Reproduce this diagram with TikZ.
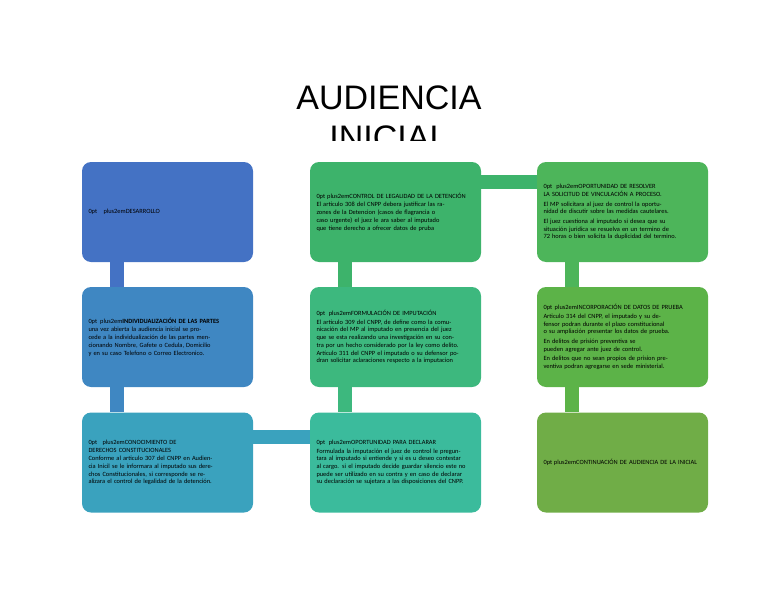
\documentclass[tikz,border=0pt]{standalone}
\usepackage{fontspec}
\setmainfont{Carlito}
\newfontfamily\titlefont{Liberation Sans}
\usetikzlibrary{calc}
\pgfdeclarelayer{bg}\pgfsetlayers{bg,main}
\newcommand\jst{\leftskip=0pt\rightskip=0pt\parfillskip=0pt plus 1fil\relax}
\definecolor{cA}{HTML}{4472C4}
\definecolor{cB}{HTML}{3F87C2}
\definecolor{cC}{HTML}{3AA2BE}
\definecolor{cD}{HTML}{3DB36B}
\definecolor{cE}{HTML}{3DB87E}
\definecolor{cF}{HTML}{3BBB9C}
\definecolor{cG}{HTML}{4DB55A}
\definecolor{cH}{HTML}{5CB348}
\definecolor{cI}{HTML}{70AD47}
\tikzset{
 box/.style={rounded corners=9pt, minimum width=171pt, minimum height=100pt, text width=158pt, align=center, font=\fontsize{6.4}{7.7}\selectfont\hyphenpenalty=10000, inner sep=5pt},
 conn/.style={line width=14pt}
}
\begin{document}
\begin{tikzpicture}[x=1pt,y=-1pt]
\useasboundingbox (0,0) rectangle (768,594);
\begin{scope}
\clip (0,0) rectangle (768,140);
\node[font=\titlefont\fontsize{34}{40}\selectfont, align=center, anchor=north] (title) at (389,82) {AUDIENCIA\\INICIAL};
\end{scope}
\node[box, fill=cA] (a) at (167.5,212) {DESARROLLO};
\node[box, fill=cB] (b) at (167.5,337) {\textbf{INDIVIDUALIZACIÓN DE LAS PARTES}\\[1pt] una vez abierta la audiencia inicial se procede a la individualización de las partes mencionando Nombre, Gafete o Cedula, Domicilio y en su caso Telefono o Correo Electronico.};
\node[box, fill=cC] (c) at (167.5,462.5) {CONOCIMIENTO DE DERECHOS CONSTITUCIONALES\\[1pt]\jst Conforme al articulo 307 del CNPP en Audiencia Inicil se le informara al imputado sus derechos Constitucionales, si corresponde se realizara el control de legalidad de la detención.};
\node[box, fill=cD] (d) at (395.5,212) {CONTROL DE LEGALIDAD DE LA DETENCIÓN\\[1pt]\jst El articulo 308 del CNPP debera justificar las razones de la Detencion (casos de flagrancia o caso urgente) el juez le ara saber al imputado que tiene derecho a ofrecer datos de pruba};
\node[box, fill=cE] (e) at (395.5,337) {FORMULACIÓN DE IMPUTACIÓN\\[1pt]\jst El articulo 309 del CNPP, de define como la comunicación del MP al imputado en presencia del juez que se esta realizando una investigación en su contra por un hecho considerado por la ley como delito. Artículo 311 del CNPP el imputado o su defensor podran solicitar aclaraciones respecto a la imputacion};
\node[box, fill=cF] (f) at (395.5,462.5) {OPORTUNIDAD PARA DECLARAR\\[1pt] Formulada la imputación el juez de control le preguntara al imputado si entiende y si es u deseo contestar al cargo. si el imputado decide guardar silencio este no puede ser utilizado en su contra y en caso de declarar su declaración se sujetara a las disposiciones del CNPP.};
\node[box, fill=cG] (g) at (622.5,212) {OPORTUNIDAD DE RESOLVER LA SOLICITUD DE VINCULACIÓN A PROCESO.\\[2pt] El MP solicitara al juez de control la oportunidad de discutir sobre las medidas cautelares.\\[2pt] El juez cuestiona al imputado si desea que su situación juridica se resuelva en un termino de 72 horas o bien solicita la duplicidad del termino.};
\node[box, fill=cH] (h) at (622.5,337) {INCORPORACIÓN DE DATOS DE PRUEBA\\[1pt] Articulo 314 del CNPP, el imputado y su defensor podran durante el plazo constitucional o su ampliación presentar los datos de prueba.\\[2pt] En delitos de prisión preventiva se pueden agregar ante juez de control.\\[2pt] En delitos que no sean propios de prision preventiva podran agregarse en sede ministerial.};
\node[box, fill=cI] (i) at (622.5,462.5) {CONTINUACIÓN DE AUDIENCIA DE LA INICIAL};
\begin{pgfonlayer}{bg}
\draw[conn, cA] ([xshift=35pt]a.south west) -- ([xshift=35pt]b.north west);
\draw[conn, cB] ([xshift=35pt]b.south west) -- ([xshift=35pt]c.north west);
\draw[conn, cC] ([yshift=-25pt]c.north east) -- ([yshift=-25pt]f.north west);
\draw[conn, cD] ([xshift=35pt]d.south west) -- ([xshift=35pt]e.north west);
\draw[conn, cE] ([xshift=35pt]e.south west) -- ([xshift=35pt]f.north west);
\draw[conn, cD] ([yshift=-20pt]d.north east) -- ([yshift=-20pt]g.north west);
\draw[conn, cG] ([xshift=35pt]g.south west) -- ([xshift=35pt]h.north west);
\draw[conn, cH] ([xshift=35pt]h.south west) -- ([xshift=35pt]i.north west);
\end{pgfonlayer}
\end{tikzpicture}
\end{document}
